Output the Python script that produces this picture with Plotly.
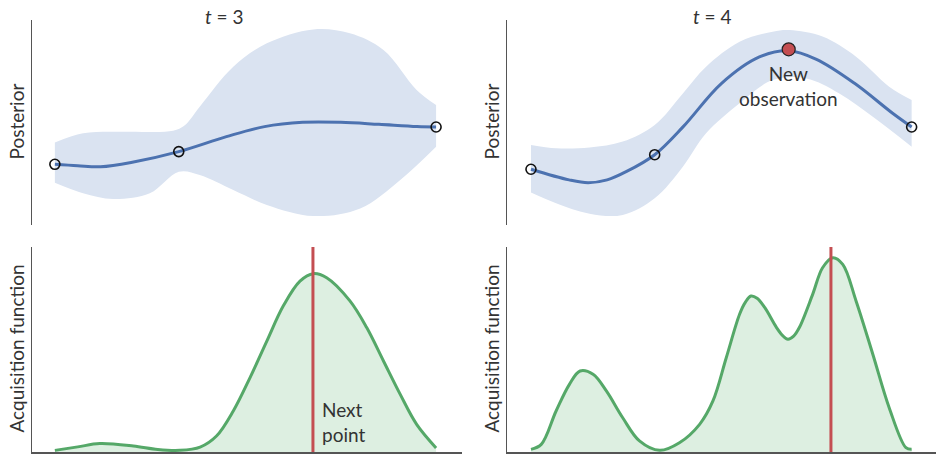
import plotly.graph_objects as go

# ---------------- data ----------------
# t = 3 posterior
mean3_x = [0, 0.06, 0.12, 0.2, 0.325, 0.45, 0.55, 0.65, 0.75, 0.85, 0.95, 1.0]
mean3_y = [2.96, 2.89, 2.84, 3.05, 3.58, 4.31, 4.80, 5.01, 5.01, 4.91, 4.80, 4.78]
up3_x = [0, 0.074, 0.18, 0.31, 0.34, 0.38, 0.468, 0.556, 0.678, 0.774, 0.862, 0.949, 1.0]
up3_y = [4.02, 4.47, 4.55, 4.6, 4.85, 5.77, 7.72, 8.86, 9.54, 9.35, 8.54, 6.59, 5.85]
lo3_x = [0, 0.074, 0.153, 0.249, 0.325, 0.38, 0.468, 0.556, 0.678, 0.801, 0.906, 1.0]
lo3_y = [2.06, 1.55, 1.27, 1.55, 2.60, 2.44, 1.71, 0.98, 0.44, 0.81, 2.2, 3.82]
obs3_x = [0, 0.325, 1.0]
obs3_y = [2.96, 3.58, 4.78]

# t = 4 posterior
mean4_x = [0, 0.1, 0.15, 0.2, 0.25, 0.325, 0.4, 0.5, 0.6, 0.677, 0.75, 0.85, 0.95, 1.0]
mean4_y = [2.72, 2.2, 2.06, 2.2, 2.6, 3.43, 4.8, 6.9, 8.2, 8.5, 8.08, 6.91, 5.45, 4.78]
up4_x = [0, 0.066, 0.154, 0.241, 0.325, 0.399, 0.46, 0.548, 0.635, 0.679, 0.766, 0.854, 0.941, 1.0]
up4_y = [3.90, 3.74, 3.78, 4.07, 4.88, 6.42, 7.72, 8.94, 9.43, 9.51, 9.19, 8.21, 6.75, 6.10]
lo4_x = [0, 0.066, 0.154, 0.241, 0.325, 0.399, 0.46, 0.548, 0.635, 0.723, 0.81, 0.898, 1.0]
lo4_y = [1.58, 1.06, 0.55, 0.49, 1.3, 2.84, 4.47, 5.94, 7.07, 7.15, 6.42, 5.28, 3.82]
obs4_x = [0, 0.325, 1.0]
obs4_y = [2.72, 3.43, 4.78]
new_obs_x = [0.677]
new_obs_y = [8.57]

# acquisition functions
acq3_x = [0, 0.06, 0.118, 0.206, 0.27, 0.328, 0.381, 0.424, 0.468, 0.512, 0.556, 0.599,
          0.643, 0.678, 0.713, 0.774, 0.818, 0.862, 0.906, 0.949, 1.0]
acq3_y = [0.08, 0.25, 0.41, 0.29, 0.12, 0.08, 0.24, 0.78, 2.0, 3.63, 5.41, 7.12,
          8.34, 8.70, 8.50, 7.37, 6.07, 4.44, 2.81, 1.35, 0.2]
acq4_x = [0, 0.027, 0.066, 0.101, 0.129, 0.163, 0.198, 0.241, 0.285, 0.338, 0.39, 0.443,
          0.478, 0.513, 0.548, 0.563, 0.578, 0.594, 0.614, 0.644, 0.66, 0.675, 0.69, 0.705,
          0.74, 0.766, 0.793, 0.819, 0.854, 0.898, 0.941, 0.985, 1.0]
acq4_y = [0.13, 0.37, 2.0, 3.30, 3.95, 3.79, 2.98, 1.67, 0.54, 0.08, 0.45, 1.35,
          2.49, 4.6, 6.72, 7.3, 7.61, 7.5, 7.05, 6.1, 5.7, 5.5, 5.65, 6.07,
          7.69, 8.99, 9.48, 9.15, 7.37, 4.77, 2.16, 0.21, 0.13]
next3_x = [0.677]
next4_x = [0.788]

titles = ["<i>t</i> = 3", "<i>t</i> = 4"]

# ---------------- style ----------------
FONT = "Lato"
FS = 19
TXT = "#333333"
BLUE = "#4c72b0"
BAND = "rgb(218,227,241)"
GREEN = "#55a868"
GFILL = "rgb(221,239,225)"
RED = "#c44e52"
AX = "#555555"

fig = go.Figure()

def band(xa, ya, ux, uy, lx, ly):
    fig.add_trace(go.Scatter(x=ux, y=uy, xaxis=xa, yaxis=ya, mode="lines",
                             line=dict(width=0, shape="spline", color=BAND),
                             hoverinfo="skip", showlegend=False))
    fig.add_trace(go.Scatter(x=lx, y=ly, xaxis=xa, yaxis=ya, mode="lines",
                             line=dict(width=0, shape="spline", color=BAND),
                             fill="tonexty", fillcolor=BAND,
                             hoverinfo="skip", showlegend=False))

def posterior(xa, ya, mx, my, ox, oy):
    fig.add_trace(go.Scatter(x=mx, y=my, xaxis=xa, yaxis=ya, mode="lines",
                             line=dict(width=3, shape="spline", color=BLUE),
                             showlegend=False))
    fig.add_trace(go.Scatter(x=ox, y=oy, xaxis=xa, yaxis=ya, mode="markers",
                             marker=dict(symbol="circle-open", size=10, color="#111111",
                                         line=dict(width=1.6)),
                             showlegend=False))

def acquisition(xa, ya, ax_, ay_, nx):
    fig.add_trace(go.Scatter(x=ax_, y=ay_, xaxis=xa, yaxis=ya, mode="lines",
                             line=dict(width=3, shape="spline", color=GREEN),
                             fill="tozeroy", fillcolor=GFILL, showlegend=False))
    fig.add_trace(go.Scatter(x=[nx[0], nx[0]], y=[0, 10], xaxis=xa, yaxis=ya, mode="lines",
                             line=dict(width=3, color=RED), showlegend=False))

band("x", "y", up3_x, up3_y, lo3_x, lo3_y)
posterior("x", "y", mean3_x, mean3_y, obs3_x, obs3_y)
band("x2", "y2", up4_x, up4_y, lo4_x, lo4_y)
posterior("x2", "y2", mean4_x, mean4_y, obs4_x, obs4_y)
fig.add_trace(go.Scatter(x=new_obs_x, y=new_obs_y, xaxis="x2", yaxis="y2", mode="markers",
                         marker=dict(size=13, color=RED, line=dict(width=1.2, color="#222222")),
                         showlegend=False))
acquisition("x3", "y3", acq3_x, acq3_y, next3_x)
acquisition("x4", "y4", acq4_x, acq4_y, next4_x)

W, H = 946, 462
def px(v):
    return v / W
def py(v):
    return (H - v) / H

xl = [px(32), px(462)]
xr = [px(507), px(936)]
yt = [py(225), py(20)]
yb = [py(452), py(247)]
rl = [-0.06, 1.068]
rr = [-0.063, 1.064]

def xaxis(dom, rng, anchor, line):
    return dict(domain=dom, range=rng, anchor=anchor, showgrid=False, zeroline=False,
                showticklabels=False, ticks="", showline=line, linecolor=AX, linewidth=1.5,
                fixedrange=True)

def yaxis(dom, anchor):
    return dict(domain=dom, range=[0, 10], anchor=anchor, showgrid=False, zeroline=False,
                showticklabels=False, ticks="", showline=True, linecolor=AX, linewidth=1.5,
                fixedrange=True)

def ann(text, x, y, xref="paper", yref="paper", angle=0, xanchor="center", align="center"):
    return dict(text=text, x=x, y=y, xref=xref, yref=yref, showarrow=False,
                xanchor=xanchor, yanchor="middle", textangle=angle, align=align,
                font=dict(size=FS))

annotations = [
    ann(titles[0], px(224), py(16)),
    ann(titles[1], px(712), py(16)),
    ann("Posterior", px(15.5), py(122), angle=-90),
    ann("Posterior", px(490.5), py(122), angle=-90),
    ann("Acquisition function", px(15.5), py(349), angle=-90),
    ann("Acquisition function", px(490.5), py(349), angle=-90),
    ann("New<br>observation", new_obs_x[0], 6.76, xref="x2", yref="y2"),
    ann("Next<br>point", 0.696, 1.47, xref="x3", yref="y3", xanchor="left", align="left"),
]

fig.update_layout(
    width=W, height=H,
    margin=dict(l=0, r=0, t=0, b=0),
    paper_bgcolor="white", plot_bgcolor="white",
    font=dict(family=FONT, color=TXT, size=FS),
    showlegend=False,
    hovermode=False,
    xaxis=xaxis(xl, rl, "y", False),
    yaxis=yaxis(yt, "x"),
    xaxis2=xaxis(xr, rr, "y2", False),
    yaxis2=yaxis(yt, "x2"),
    xaxis3=xaxis(xl, rl, "y3", True),
    yaxis3=yaxis(yb, "x3"),
    xaxis4=xaxis(xr, rr, "y4", True),
    yaxis4=yaxis(yb, "x4"),
    annotations=annotations,
)

# remove the browser's default page margin so the 946x462 figure fills the window
fig.write_html("out.html", config={"displayModeBar": False, "staticPlot": True},
               post_script="document.body.style.margin='0';")
